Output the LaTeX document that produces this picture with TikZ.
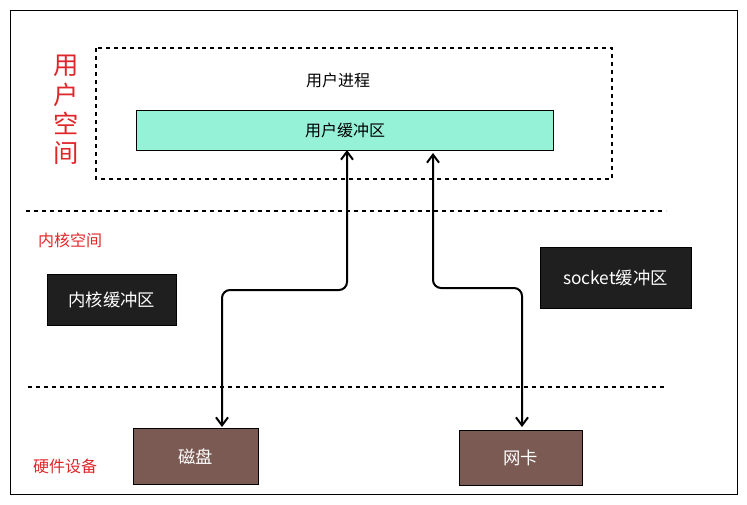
\documentclass[tikz,border=0pt]{standalone}
\usepackage{fontspec}
\setmainfont{Noto Sans CJK SC}
\usetikzlibrary{arrows.meta}
\definecolor{bufgreen}{HTML}{96F2D7}
\definecolor{devbrown}{HTML}{7A5A53}
\definecolor{zonered}{HTML}{E0262B}
\begin{document}
\begin{tikzpicture}[x=0.75pt,y=-0.75pt,
  zone/.style={text=zonered,font=\fontsize{12}{14}\selectfont},
  dark box/.style={draw=black,fill=black!88,text=white,font=\fontsize{13}{15}\selectfont},
  dev box/.style={draw=black,fill=devbrown,text=white,font=\fontsize{13}{15}\selectfont},
  link/.style={line width=1.5pt,rounded corners=6pt,{Straight Barb[length=6pt,width=9pt]}-{Straight Barb[length=6pt,width=9pt]}}]

  \useasboundingbox (0,0) rectangle (747,504);
  \draw[thin] (10,10) rectangle (737,494);

  % user space
  \draw[dashed,thick] (96,48) rectangle (612,179);
  \node[zone,font=\fontsize{19}{22}\selectfont,align=center] (us) at (66,110) {用\\户\\空\\间};
  \node[font=\fontsize{12}{14}\selectfont] (proc) at (338,80) {用户进程};
  \node[draw=black,fill=bufgreen,minimum width=313pt,minimum height=30pt,
        font=\fontsize{12}{14}\selectfont,anchor=north west] (ubuf) at (136,110) {};
  \node[font=\fontsize{12}{14}\selectfont] (ubuftext) at (345,130) {用户缓冲区};

  % kernel space
  \draw[dashed,thick] (26,211) -- (666,211);
  \node[zone] (ks) at (70,240) {内核空间};
  \node[dark box,minimum width=97pt,minimum height=38pt,anchor=north west] (kbuf) at (47,274) {内核缓冲区};
  \node[dark box,minimum width=113pt,minimum height=46pt,anchor=north west] (sbuf) at (540,247) {socket缓冲区};

  % hardware
  \draw[dashed,thick] (28,387) -- (666,387);
  \node[zone] (hw) at (65,466) {硬件设备};
  \node[dev box,minimum width=94pt,minimum height=42pt,anchor=north west] (disk) at (133,428) {磁盘};
  \node[dev box,minimum width=92pt,minimum height=41pt,anchor=north west] (nic) at (459,430) {网卡};

  \coordinate (d1) at (222,427);
  \coordinate (d2) at (347,150);
  \coordinate (n1) at (522,427);
  \coordinate (n2) at (433,153);
  \draw[link] (d1) -- (222,290) -- (347,290) -- (d2);
  \draw[link] (n1) -- (522,288) -- (433,288) -- (n2);
\end{tikzpicture}
\end{document}
